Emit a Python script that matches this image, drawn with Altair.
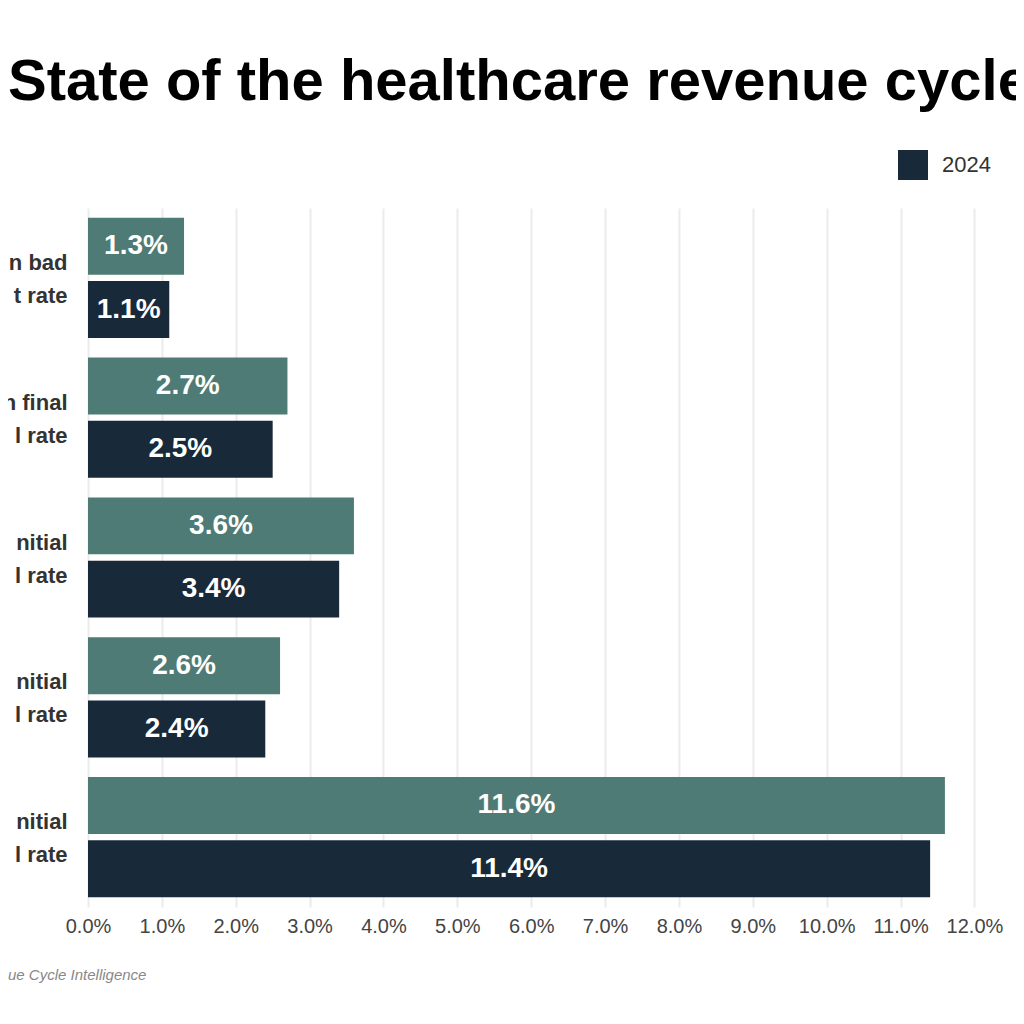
import json
import altair as alt
import pandas as pd

# ---- data ----
years = ["2025", "2024"]
label_lines = [
    ["n bad", "t rate"],
    ["n final", "l rate"],
    ["nitial", "l rate"],
    ["nitial", "l rate"],
    ["nitial", "l rate"],
]
vals_2025 = [1.3, 2.7, 3.6, 2.6, 11.6]
vals_2024 = [1.1, 2.5, 3.4, 2.4, 11.4]
tick_values = list(range(0, 13))
title_text = "State of the healthcare revenue cycle"
source_text = "ue Cycle Intelligence"
colors = ["#4E7B75", "#182A3A"]

rows = []
for i in range(len(label_lines)):
    for yr, vals in zip(years, [vals_2025, vals_2024]):
        v = vals[i]
        rows.append({"idx": i, "year": yr, "value": v, "mid": v / 2, "lab": f"{v:.1f}%"})
df = pd.DataFrame(rows)

FONT = "Liberation Sans"

base = alt.Chart(df).encode(
    y=alt.Y(
        "idx:O",
        scale=alt.Scale(paddingInner=0.14, paddingOuter=0.07),
        axis=alt.Axis(
            title=None,
            labelExpr=json.dumps(label_lines) + "[datum.value]",
            labelFontSize=22,
            labelFontWeight="bold",
            labelFont=FONT,
            labelLineHeight=33,
            labelColor="#333333",
            labelAlign="right",
            labelBaseline="middle",
            labelPadding=21,
            labelOffset=-15,
            ticks=False,
            domain=False,
            grid=False,
            labelLimit=400,
        ),
    ),
    yOffset=alt.YOffset("year:N", sort=years, scale=alt.Scale(paddingInner=0.1)),
)

bars = base.mark_bar().encode(
    x=alt.X(
        "value:Q",
        scale=alt.Scale(domain=[0, 12.4], nice=False),
        axis=alt.Axis(
            title=None,
            values=tick_values,
            labelExpr="format(datum.value, '.1f') + '%'",
            labelFontSize=20,
            labelFont=FONT,
            labelColor="#444444",
            labelPadding=9,
            labelFlush=False,
            ticks=False,
            domain=False,
            grid=True,
            gridColor="#EBEBEB",
            gridWidth=2,
        ),
    ),
    color=alt.Color(
        "year:N",
        scale=alt.Scale(domain=years, range=colors),
        legend=alt.Legend(
            values=["2024"],
            title=None,
            orient="none",
            legendX=810,
            legendY=-58,
            symbolType="square",
            symbolSize=900,
            symbolStrokeWidth=0,
            labelFontSize=22,
            labelFont=FONT,
            labelColor="#333333",
            labelOffset=14,
        ),
    ),
)

texts = base.mark_text(
    color="white", fontSize=28, fontWeight="bold", font=FONT, baseline="middle"
).encode(x=alt.X("mid:Q", title=None), text="lab:N")

title = alt.Chart(pd.DataFrame({"t": [title_text]})).mark_text(
    align="left", baseline="alphabetic", fontSize=58, fontWeight="bold", font=FONT, color="#000000"
).encode(x=alt.value(-80), y=alt.value(-108), text="t:N")

source = alt.Chart(pd.DataFrame({"t": [source_text]})).mark_text(
    align="left", baseline="alphabetic", fontSize=15, fontStyle="italic", font=FONT, color="#888888"
).encode(x=alt.value(-80), y=alt.value(772), text="t:N")

chart = (
    alt.layer(bars, texts, title, source)
    .properties(
        width=916,
        height=699,
        padding={"left": 80, "top": 200, "right": 12, "bottom": 109},
        autosize=alt.AutoSizeParams(type="none"),
    )
    .configure_view(stroke=None)
)

chart.save("out.html", embed_options={"renderer": "svg", "actions": False})
